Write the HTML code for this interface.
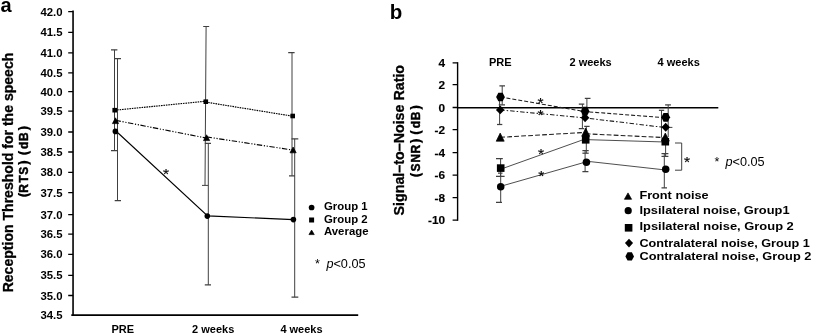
<!DOCTYPE html>
<html lang="en"><head><meta charset="utf-8"><title>Figure</title>
<style>
html,body{margin:0;padding:0;background:#fff;}
body{width:813px;height:334px;overflow:hidden;}
svg{display:block;position:absolute;left:0;top:0;}
text{font-family:"Liberation Sans", Arial, Helvetica, sans-serif;fill:#000;}
.b{font-weight:bold;}
.t11{font-size:11px;font-weight:bold;}
.t14{font-size:14px;font-weight:bold;stroke:#000;stroke-width:0.3px;}
.t12{font-size:12px;font-weight:bold;stroke:#000;stroke-width:0.45px;}
.pl{font-size:20px;font-weight:bold;}
.pr{font-family:"DejaVu Sans","Liberation Sans",sans-serif;font-size:14px;stroke-width:0.1px;}
.eb{stroke:#404040;stroke-width:1;fill:none;}
.ec{stroke-width:1.25;}
.ax{stroke:#000;fill:none;}
.mk{fill:#000;stroke:none;}
.tr{stroke:#000;stroke-width:0.7px;stroke-linejoin:miter;}
.ln{stroke:#000;fill:none;}
.st{font-size:15.5px;stroke:#000;stroke-width:0.15px;}
.pv{font-size:12.5px;}
</style></head><body>
<svg width="813" height="334" viewBox="0 0 813 334">
<rect x="0" y="0" width="813" height="334" fill="#fff"/>
<!-- panel a -->
<text class="pl" x="0.4" y="12.3">a</text>
<path class="ax" stroke-width="1.6" d="M73.05 10.5V316.0"/>
<path class="ax" stroke-width="1.3" d="M68.2 11.70H73.1M68.2 32.30H73.1M68.2 52.90H73.1M68.2 72.80H73.1M68.2 91.70H73.1M68.2 111.10H73.1M68.2 132.00H73.1M68.2 152.00H73.1M68.2 172.30H73.1M68.2 192.70H73.1M68.2 214.70H73.1M68.2 234.10H73.1M68.2 254.30H73.1M68.2 275.40H73.1M68.2 295.50H73.1"/>
<path class="ax" stroke-width="1.8" d="M71.3 315.15H358.2"/>
<text class="t11" transform="translate(62.6 15.75) scale(1.035 1)" text-anchor="end">42.0</text>
<text class="t11" transform="translate(62.6 36.35) scale(1.035 1)" text-anchor="end">41.5</text>
<text class="t11" transform="translate(62.6 56.95) scale(1.035 1)" text-anchor="end">41.0</text>
<text class="t11" transform="translate(62.6 76.85) scale(1.035 1)" text-anchor="end">40.5</text>
<text class="t11" transform="translate(62.6 95.75) scale(1.035 1)" text-anchor="end">40.0</text>
<text class="t11" transform="translate(62.6 115.15) scale(1.035 1)" text-anchor="end">39.5</text>
<text class="t11" transform="translate(62.6 136.05) scale(1.035 1)" text-anchor="end">39.0</text>
<text class="t11" transform="translate(62.6 156.05) scale(1.035 1)" text-anchor="end">38.5</text>
<text class="t11" transform="translate(62.6 176.35) scale(1.035 1)" text-anchor="end">38.0</text>
<text class="t11" transform="translate(62.6 196.75) scale(1.035 1)" text-anchor="end">37.5</text>
<text class="t11" transform="translate(62.6 218.75) scale(1.035 1)" text-anchor="end">37.0</text>
<text class="t11" transform="translate(62.6 238.15) scale(1.035 1)" text-anchor="end">36.5</text>
<text class="t11" transform="translate(62.6 258.35) scale(1.035 1)" text-anchor="end">36.0</text>
<text class="t11" transform="translate(62.6 279.45) scale(1.035 1)" text-anchor="end">35.5</text>
<text class="t11" transform="translate(62.6 299.55) scale(1.035 1)" text-anchor="end">35.0</text>
<text class="t11" transform="translate(62.6 319.05) scale(1.035 1)" text-anchor="end">34.5</text>
<text class="t11" x="122.7" y="332.6" text-anchor="middle">PRE</text>
<text class="t11" x="213.2" y="332.6" text-anchor="middle">2 weeks</text>
<text class="t11" x="301.5" y="332.6" text-anchor="middle">4 weeks</text>
<text class="t14" transform="translate(12.8 172.5) rotate(-90) scale(1.005 1)" text-anchor="middle">Reception Threshold for the speech</text>
<text class="t12" transform="translate(28.1 199.70) rotate(-90)" x="1.76 6.94 16.84 25.05 33.69"><tspan class="pr" dy="0.9">(</tspan><tspan dy="-0.9">RTS</tspan><tspan class="pr" dy="0.9">)</tspan></text>
<text class="t12" transform="translate(28.1 157.85) rotate(-90)" x="1.76 8.89 16.84 26.29"><tspan class="pr" dy="0.9">(</tspan><tspan dy="-0.9">dB</tspan><tspan class="pr" dy="0.9">)</tspan></text>
<path class="eb" d="M114.5 49.8V150.6"/>
<path class="eb ec" d="M111.0 49.8H117.4M111.0 150.6H117.4"/>
<path class="eb" d="M117.5 58.5V200.5"/>
<path class="eb ec" d="M114.7 58.5H121.0M114.7 200.5H121.0"/>
<path class="eb" d="M206.1 26.5L205.0 185.4M203.2 26.5H209.2M202.0 185.4H208.3"/>
<path class="eb" d="M208.3 143.4V284.9"/>
<path class="eb ec" d="M204.8 143.4H211.0M204.8 284.9H211.0"/>
<path class="eb" d="M292.0 52.6V175.8"/>
<path class="eb ec" d="M288.2 52.6H294.6M289.0 175.8H295.0"/>
<path class="eb" d="M294.7 138.8V297.2"/>
<path class="eb ec" d="M291.5 138.8H298.3M291.5 297.2H298.3"/>
<polyline class="ln" points="114.7,110.2 205.8,101.2" stroke-width="1.15" stroke-dasharray="1.6 0.85"/>
<polyline class="ln" points="205.8,102.1 292.7,116.2" stroke-width="1.15" stroke-dasharray="1.6 0.85"/>
<polyline class="ln" points="115.5,120.3 206.6,138.1" stroke-width="1.15" stroke-dasharray="5.4 1.7 1.2 1.7 1.2 1.5"/>
<polyline class="ln" points="206.6,136.9 293.1,150.1" stroke-width="1.15" stroke-dasharray="5.4 1.7 1.2 1.7 1.2 1.5"/>
<polyline class="ln" points="115.9,131.0 207.6,215.9 293.4,219.6" stroke-width="1.1"/>
<rect class="mk" x="112.40" y="107.90" width="4.60" height="4.60"/>
<rect class="mk" x="203.50" y="99.40" width="4.60" height="4.60"/>
<rect class="mk" x="290.40" y="113.70" width="4.60" height="4.60"/>
<path class="mk tr" d="M115.50 117.80L118.60 123.60L112.40 123.60Z"/>
<path class="mk tr" d="M206.60 134.80L209.70 140.60L203.50 140.60Z"/>
<path class="mk tr" d="M293.10 147.00L296.20 152.80L290.00 152.80Z"/>
<circle class="mk" cx="115.40" cy="131.40" r="2.80"/>
<circle class="mk" cx="207.30" cy="216.10" r="2.80"/>
<circle class="mk" cx="293.40" cy="219.60" r="2.80"/>
<text class="st" x="165.9" y="179.0" text-anchor="middle">*</text>
<circle class="mk" cx="311.60" cy="207.50" r="2.85"/>
<rect class="mk" x="309.10" y="217.50" width="5.00" height="5.00"/>
<path class="mk tr" d="M311.60 230.10L314.25 234.60L308.95 234.60Z"/>
<text class="t11" transform="translate(324 210.1) scale(1.035 1)">Group 1</text>
<text class="t11" transform="translate(324 222.7) scale(1.035 1)">Group 2</text>
<text class="t11" transform="translate(324 234.9) scale(1.035 1)">Average</text>
<text class="pv" x="315.0" y="267.7">*</text>
<text class="pv" transform="translate(326.4 267.7) scale(1.015 1)"><tspan font-style="italic">p</tspan>&lt;0.05</text>
<!-- panel b -->
<text class="pl" x="389.7" y="18.8" style="font-size:20.5px">b</text>
<path class="ax" stroke-width="1.4" d="M457.6 62.2V220.8"/>
<path class="ax" stroke-width="1.3" d="M452.6 62.90H457.6M452.6 84.70H457.6M452.6 107.50H457.6M452.6 129.60H457.6M452.6 152.65H457.6M452.6 175.10H457.6M452.6 197.60H457.6M452.6 220.20H457.6"/>
<path class="ax" stroke-width="1.45" d="M457.6 107.7H718.3"/>
<text class="t11" style="font-size:11.6px;stroke:#000;stroke-width:0.15px" transform="translate(445.1 67.05) scale(1.02 1)" text-anchor="end">4</text>
<text class="t11" style="font-size:11.6px;stroke:#000;stroke-width:0.15px" transform="translate(445.1 88.85) scale(1.02 1)" text-anchor="end">2</text>
<text class="t11" style="font-size:11.6px;stroke:#000;stroke-width:0.15px" transform="translate(445.1 111.65) scale(1.02 1)" text-anchor="end">0</text>
<text class="t11" style="font-size:11.6px;stroke:#000;stroke-width:0.15px" transform="translate(445.1 133.75) scale(1.02 1)" text-anchor="end">-2</text>
<text class="t11" style="font-size:11.6px;stroke:#000;stroke-width:0.15px" transform="translate(445.1 156.80) scale(1.02 1)" text-anchor="end">-4</text>
<text class="t11" style="font-size:11.6px;stroke:#000;stroke-width:0.15px" transform="translate(445.1 179.25) scale(1.02 1)" text-anchor="end">-6</text>
<text class="t11" style="font-size:11.6px;stroke:#000;stroke-width:0.15px" transform="translate(445.1 201.75) scale(1.02 1)" text-anchor="end">-8</text>
<text class="t11" style="font-size:11.6px;stroke:#000;stroke-width:0.15px" transform="translate(445.1 224.35) scale(1.02 1)" text-anchor="end">-10</text>
<text class="t11" x="500.3" y="65.8" text-anchor="middle">PRE</text>
<text class="t11" x="590.6" y="65.8" text-anchor="middle">2 weeks</text>
<text class="t11" x="678.7" y="65.8" text-anchor="middle">4 weeks</text>
<text class="t14" transform="translate(403.7 140.2) rotate(-90) scale(1.019 1)" text-anchor="middle">Signal–to–Noise Ratio</text>
<text class="t12" transform="translate(419.8 179.85) rotate(-90)" x="1.76 8.46 17.37 26.24 35.59"><tspan class="pr" dy="0.9">(</tspan><tspan dy="-0.9">SNR</tspan><tspan class="pr" dy="0.9">)</tspan></text>
<text class="t12" transform="translate(419.8 137.15) rotate(-90)" x="1.76 8.89 16.84 26.49"><tspan class="pr" dy="0.9">(</tspan><tspan dy="-0.9">dB</tspan><tspan class="pr" dy="0.9">)</tspan></text>
<path class="eb" d="M502.2 85.9V104.8"/>
<path class="eb ec" d="M499.4 85.9H505.0M498.7 104.8H505.0"/>
<path class="eb" d="M499.6 95.0V124.5"/>
<path class="eb ec" d="M497.0 124.5H502.3"/>
<path class="eb" d="M500.6 158.5V176.4"/>
<path class="eb ec" d="M496.0 158.5H502.8M496.0 176.4H504.6"/>
<path class="eb" d="M500.7 173.0V202.4"/>
<path class="eb ec" d="M498.0 173.0H502.5M496.0 202.4H502.0"/>
<path class="eb" d="M586.9 98.4V112.0"/>
<path class="eb ec" d="M584.8 98.4H590.5"/>
<path class="eb" d="M586.3 126.4V135.0"/>
<path class="eb ec" d="M584.2 126.4H589.6"/>
<path class="eb" d="M582.4 104.0V128.6"/>
<path class="eb ec" d="M578.8 104.0H584.3M578.8 128.6H584.3"/>
<path class="eb" d="M586.3 139.0V153.2"/>
<path class="eb ec" d="M582.4 153.2H588.7"/>
<path class="eb" d="M585.1 150.5V171.5"/>
<path class="eb ec" d="M582.4 150.5H588.7M582.4 171.5H588.4"/>
<path class="eb" d="M668.2 104.9V137.0"/>
<path class="eb ec" d="M665.1 104.9H670.9"/>
<path class="eb" d="M668.2 127.4H672.4"/>
<path class="eb" d="M661.5 110.3V137.6"/>
<path class="eb ec" d="M658.9 110.3H664.2"/>
<path class="eb" d="M665.6 141.0V156.4"/>
<path class="eb ec" d="M661.5 156.4H668.4"/>
<path class="eb" d="M664.3 153.7V187.9"/>
<path class="eb ec" d="M661.5 153.7H668.4M661.5 187.9H667.0"/>
<polyline class="ln" points="500.5,97.0 585.1,111.6 665.7,117.8" stroke-width="1.05" stroke-dasharray="4 2" style="stroke:#1c1c1c"/>
<polyline class="ln" points="500.2,109.9 585.1,117.9 665.7,127.6" stroke-width="1.05" stroke-dasharray="4.5 2 1.5 2" style="stroke:#1c1c1c"/>
<polyline class="ln" points="500.2,137.3 585.7,132.4" stroke-width="1.05" stroke-dasharray="4.8 2.2" style="stroke:#1c1c1c"/>
<polyline class="ln" points="585.7,133.8 665.3,137.6" stroke-width="1.05" stroke-dasharray="4.8 2.2" style="stroke:#1c1c1c"/>
<polyline class="ln" points="500.7,169.2 585.7,138.8" stroke-width="0.95" style="stroke:#444"/>
<polyline class="ln" points="585.7,139.6 665.3,142.0" stroke-width="0.95" style="stroke:#444"/>
<polyline class="ln" points="500.7,186.3 586.4,161.8" stroke-width="0.95" style="stroke:#444"/>
<polyline class="ln" points="586.4,161.2 665.7,170.0" stroke-width="0.95" style="stroke:#444"/>
<path class="mk" d="M496.15 97.00L498.32 92.65L502.68 92.65L504.85 97.00L502.68 101.35L498.32 101.35Z"/>
<path class="mk" d="M580.75 111.20L582.93 106.85L587.27 106.85L589.45 111.20L587.27 115.55L582.93 115.55Z"/>
<path class="mk" d="M661.35 117.30L663.53 112.95L667.88 112.95L670.05 117.30L667.88 121.65L663.53 121.65Z"/>
<path class="mk" d="M500.20 105.45L504.45 109.90L500.20 114.35L495.95 109.90Z"/>
<path class="mk" d="M585.10 113.35L589.35 117.80L585.10 122.25L580.85 117.80Z"/>
<path class="mk" d="M665.70 122.85L669.95 127.30L665.70 131.75L661.45 127.30Z"/>
<path class="mk tr" d="M500.20 133.10L504.20 141.20L496.20 141.20Z"/>
<path class="mk tr" d="M585.70 128.10L589.70 136.20L581.70 136.20Z"/>
<path class="mk tr" d="M665.30 133.00L669.30 141.10L661.30 141.10Z"/>
<rect class="mk" x="496.90" y="164.30" width="7.60" height="7.60"/>
<rect class="mk" x="581.90" y="136.00" width="7.60" height="7.60"/>
<rect class="mk" x="661.50" y="137.90" width="7.60" height="7.60"/>
<circle class="mk" cx="500.70" cy="186.80" r="3.75"/>
<circle class="mk" cx="586.40" cy="162.20" r="3.75"/>
<circle class="mk" cx="665.70" cy="169.30" r="3.75"/>
<text class="st" x="540.6" y="107.6" text-anchor="middle">*</text>
<text class="st" x="540.6" y="120.0" text-anchor="middle">*</text>
<text class="st" x="540.9" y="158.7" text-anchor="middle">*</text>
<text class="st" x="541.3" y="180.6" text-anchor="middle">*</text>
<text class="st" x="687.0" y="166.8" text-anchor="middle">*</text>
<path class="eb" d="M675 143H681.7V170.2H675"/>
<text class="pv" x="714.4" y="165.8">*</text>
<text class="pv" transform="translate(725.5 165.7) scale(1.015 1)"><tspan font-style="italic">p</tspan>&lt;0.05</text>
<path class="mk tr" d="M628.00 192.90L631.60 199.30L624.40 199.30Z"/>
<circle class="mk" cx="628.20" cy="210.70" r="3.60"/>
<rect class="mk" x="624.80" y="224.00" width="7.60" height="7.60"/>
<path class="mk" d="M629.00 238.80L633.05 243.10L629.00 247.40L624.95 243.10Z"/>
<path class="mk" d="M625.40 256.40L627.55 252.25L631.85 252.25L634.00 256.40L631.85 260.55L627.55 260.55Z"/>
<text class="t11" transform="translate(639.4 199.0) scale(1.156 1)">Front noise</text>
<text class="t11" transform="translate(639.4 213.9) scale(1.170 1)">Ipsilateral noise, Group1</text>
<text class="t11" transform="translate(639.4 230.3) scale(1.175 1)">Ipsilateral noise, Group 2</text>
<text class="t11" transform="translate(639.4 246.8) scale(1.154 1)">Contralateral noise, Group 1</text>
<text class="t11" transform="translate(639.4 260.2) scale(1.164 1)">Contralateral noise, Group 2</text>
</svg>
</body></html>
